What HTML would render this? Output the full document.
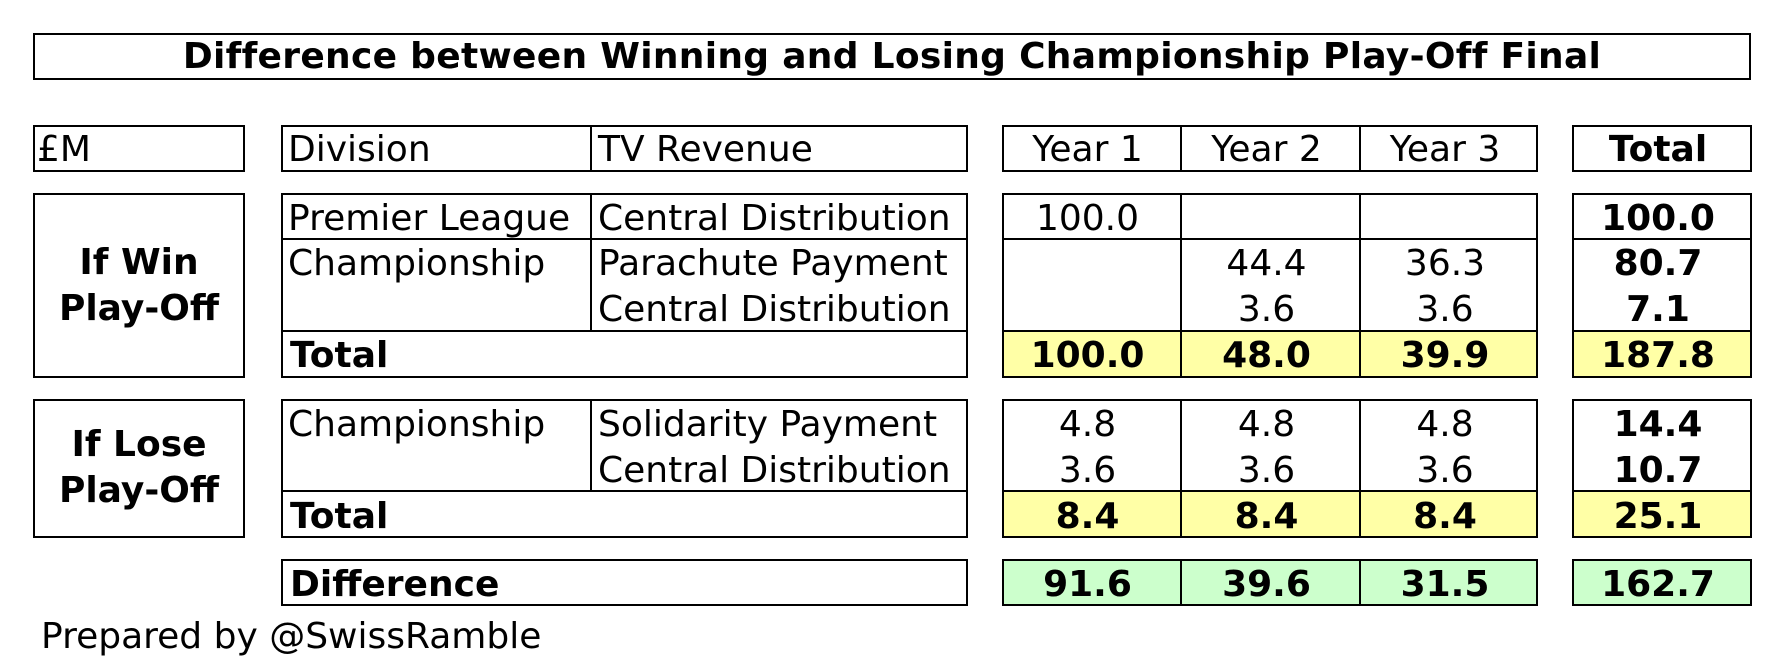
<!DOCTYPE html>
<html><head><meta charset="utf-8"><style>
body{margin:0;background:#fff;}
#c{position:relative;width:1784px;height:670px;font-family:"DejaVu Sans","Liberation Sans",sans-serif;font-size:36px;color:#000;overflow:hidden}
.b{position:absolute;border:2px solid #000;box-sizing:border-box}
.l{position:absolute;background:#000}
.t{position:absolute;height:44px;line-height:48px;white-space:nowrap}
.c{text-align:center;padding-right:8px;box-sizing:border-box}
.bd{font-weight:bold}
.y{background:#ffffa6}.g{background:#ccffcc}
</style></head><body>
<div id="c">
<div class="b" style="left:33px;top:33px;width:1718px;height:47px"></div>
<div class="t bd" style="left:33px;top:33px;width:1718px;text-align:center;font-size:36px;letter-spacing:0.3px">Difference between Winning and Losing Championship Play-Off Final</div>

<div class="y" style="position:absolute;left:1002px;top:330px;width:535px;height:47px"></div>
<div class="y" style="position:absolute;left:1572px;top:330px;width:179px;height:47px"></div>
<div class="y" style="position:absolute;left:1002px;top:491px;width:535px;height:46px"></div>
<div class="y" style="position:absolute;left:1572px;top:491px;width:179px;height:46px"></div>
<div class="g" style="position:absolute;left:1002px;top:559px;width:535px;height:46px"></div>
<div class="g" style="position:absolute;left:1572px;top:559px;width:179px;height:46px"></div>

<div class="b" style="left:33px;top:125px;width:212px;height:47px"></div>
<div class="b" style="left:281px;top:125px;width:687px;height:47px"></div>
<div class="b" style="left:1002px;top:125px;width:536px;height:47px"></div>
<div class="b" style="left:1572px;top:125px;width:180px;height:47px"></div>
<div class="t" style="left:37px;top:126px">£M</div>
<div class="t" style="left:288px;top:126px">Division</div>
<div class="t" style="left:598px;top:126px">TV Revenue</div>
<div class="t c" style="left:1002px;top:126px;width:179px">Year 1</div>
<div class="t c" style="left:1181px;top:126px;width:179px">Year 2</div>
<div class="t c" style="left:1360px;top:126px;width:178px">Year 3</div>
<div class="t c bd" style="left:1572px;top:126px;width:180px">Total</div>
<div class="l" style="left:590px;top:125px;width:2px;height:47px"></div>
<div class="l" style="left:1180px;top:125px;width:2px;height:47px"></div>
<div class="l" style="left:1359px;top:125px;width:2px;height:47px"></div>

<div class="b" style="left:33px;top:193px;width:212px;height:185px"></div>
<div class="t c bd" style="left:33px;top:240px;width:212px;padding:0;line-height:46px;height:92px;white-space:normal">If Win<br>Play-Off</div>
<div class="b" style="left:281px;top:193px;width:687px;height:185px"></div>
<div class="b" style="left:1002px;top:193px;width:536px;height:185px"></div>
<div class="b" style="left:1572px;top:193px;width:180px;height:185px"></div>
<div class="l" style="left:281px;top:238px;width:687px;height:2px"></div>
<div class="l" style="left:1002px;top:238px;width:536px;height:2px"></div>
<div class="l" style="left:1572px;top:238px;width:180px;height:2px"></div>
<div class="l" style="left:281px;top:330px;width:687px;height:2px"></div>
<div class="l" style="left:1002px;top:330px;width:536px;height:2px"></div>
<div class="l" style="left:1572px;top:330px;width:180px;height:2px"></div>
<div class="l" style="left:590px;top:193px;width:2px;height:138px"></div>
<div class="l" style="left:1180px;top:193px;width:2px;height:185px"></div>
<div class="l" style="left:1359px;top:193px;width:2px;height:185px"></div>
<div class="t" style="left:288px;top:195px">Premier League</div>
<div class="t" style="left:598px;top:195px">Central Distribution</div>
<div class="t c" style="left:1002px;top:195px;width:179px">100.0</div>
<div class="t c bd" style="left:1572px;top:195px;width:180px">100.0</div>
<div class="t" style="left:288px;top:240px">Championship</div>
<div class="t" style="left:598px;top:240px">Parachute Payment</div>
<div class="t c" style="left:1181px;top:240px;width:179px">44.4</div>
<div class="t c" style="left:1360px;top:240px;width:178px">36.3</div>
<div class="t c bd" style="left:1572px;top:240px;width:180px">80.7</div>
<div class="t" style="left:598px;top:286px">Central Distribution</div>
<div class="t c" style="left:1181px;top:286px;width:179px">3.6</div>
<div class="t c" style="left:1360px;top:286px;width:178px">3.6</div>
<div class="t c bd" style="left:1572px;top:286px;width:180px">7.1</div>
<div class="t bd" style="left:290px;top:332px">Total</div>
<div class="t c bd" style="left:1002px;top:332px;width:179px">100.0</div>
<div class="t c bd" style="left:1181px;top:332px;width:179px">48.0</div>
<div class="t c bd" style="left:1360px;top:332px;width:178px">39.9</div>
<div class="t c bd" style="left:1572px;top:332px;width:180px">187.8</div>

<div class="b" style="left:33px;top:399px;width:212px;height:139px"></div>
<div class="t c bd" style="left:33px;top:422px;width:212px;padding:0;line-height:46px;height:92px;white-space:normal">If Lose<br>Play-Off</div>
<div class="b" style="left:281px;top:399px;width:687px;height:139px"></div>
<div class="b" style="left:1002px;top:399px;width:536px;height:139px"></div>
<div class="b" style="left:1572px;top:399px;width:180px;height:139px"></div>
<div class="l" style="left:281px;top:490px;width:687px;height:2px"></div>
<div class="l" style="left:1002px;top:490px;width:536px;height:2px"></div>
<div class="l" style="left:1572px;top:490px;width:180px;height:2px"></div>
<div class="l" style="left:590px;top:399px;width:2px;height:92px"></div>
<div class="l" style="left:1180px;top:399px;width:2px;height:139px"></div>
<div class="l" style="left:1359px;top:399px;width:2px;height:139px"></div>
<div class="t" style="left:288px;top:401px">Championship</div>
<div class="t" style="left:598px;top:401px">Solidarity Payment</div>
<div class="t c" style="left:1002px;top:401px;width:179px">4.8</div>
<div class="t c" style="left:1181px;top:401px;width:179px">4.8</div>
<div class="t c" style="left:1360px;top:401px;width:178px">4.8</div>
<div class="t c bd" style="left:1572px;top:401px;width:180px">14.4</div>
<div class="t" style="left:598px;top:447px">Central Distribution</div>
<div class="t c" style="left:1002px;top:447px;width:179px">3.6</div>
<div class="t c" style="left:1181px;top:447px;width:179px">3.6</div>
<div class="t c" style="left:1360px;top:447px;width:178px">3.6</div>
<div class="t c bd" style="left:1572px;top:447px;width:180px">10.7</div>
<div class="t bd" style="left:290px;top:493px">Total</div>
<div class="t c bd" style="left:1002px;top:493px;width:179px">8.4</div>
<div class="t c bd" style="left:1181px;top:493px;width:179px">8.4</div>
<div class="t c bd" style="left:1360px;top:493px;width:178px">8.4</div>
<div class="t c bd" style="left:1572px;top:493px;width:180px">25.1</div>

<div class="b" style="left:281px;top:559px;width:687px;height:47px"></div>
<div class="b" style="left:1002px;top:559px;width:536px;height:47px"></div>
<div class="b" style="left:1572px;top:559px;width:180px;height:47px"></div>
<div class="l" style="left:1180px;top:559px;width:2px;height:47px"></div>
<div class="l" style="left:1359px;top:559px;width:2px;height:47px"></div>
<div class="t bd" style="left:290px;top:561px">Difference</div>
<div class="t c bd" style="left:1002px;top:561px;width:179px">91.6</div>
<div class="t c bd" style="left:1181px;top:561px;width:179px">39.6</div>
<div class="t c bd" style="left:1360px;top:561px;width:178px">31.5</div>
<div class="t c bd" style="left:1572px;top:561px;width:180px">162.7</div>

<div class="t" style="left:41px;top:613px">Prepared by @SwissRamble</div>
</div>
</body></html>
